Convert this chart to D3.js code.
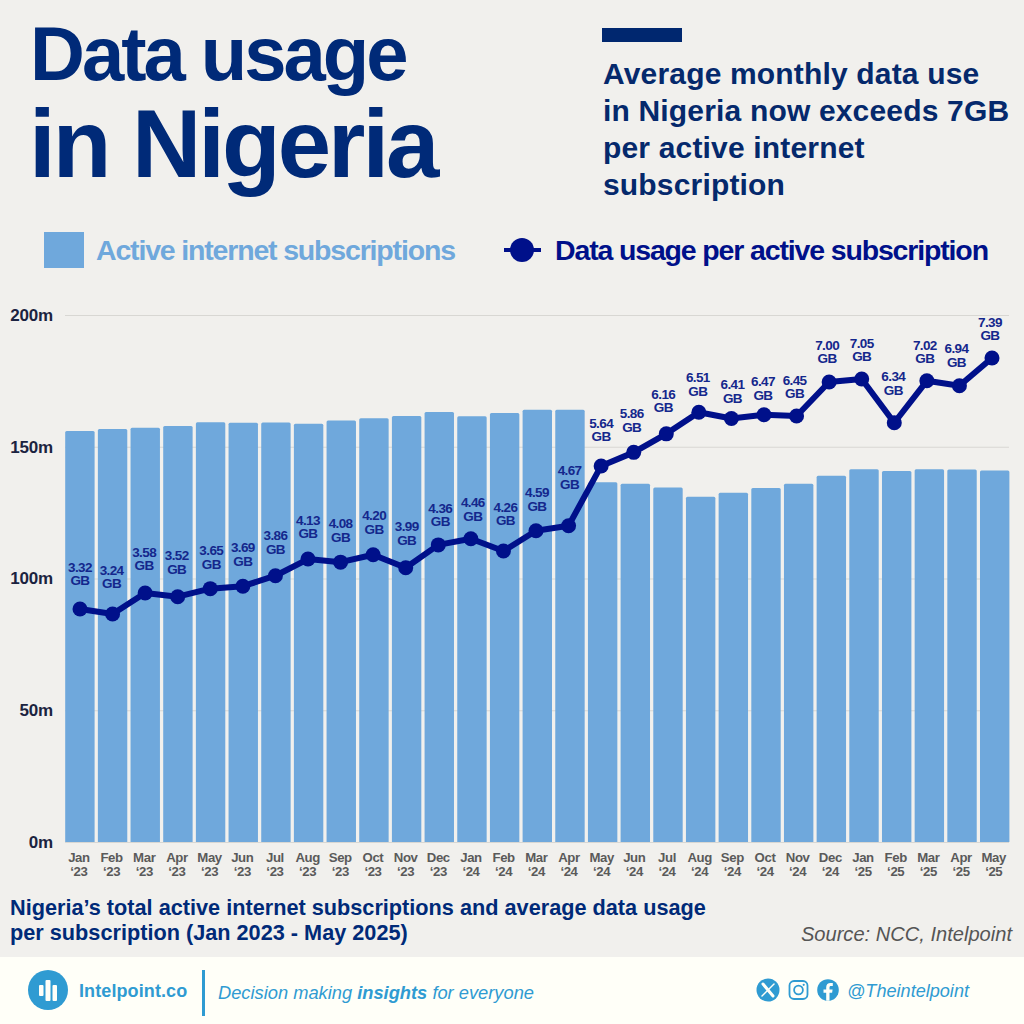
<!DOCTYPE html>
<html>
<head>
<meta charset="utf-8">
<script src="https://cdn.jsdelivr.net/npm/d3@7/dist/d3.min.js"></script>
<style>
  html, body { margin: 0; padding: 0; background: #f1f0ed; }
  svg { display: block; font-family: "Liberation Sans", Arial, sans-serif; }
</style>
</head>
<body>
<svg id="chart" width="1024" height="1024"></svg>
<script>
// Monthly figures, January 2023 to May 2025
const months = ["Jan","Feb","Mar","Apr","May","Jun","Jul","Aug","Sep","Oct","Nov","Dec",
                "Jan","Feb","Mar","Apr","May","Jun","Jul","Aug","Sep","Oct","Nov","Dec",
                "Jan","Feb","Mar","Apr","May"];
const years = ["23","23","23","23","23","23","23","23","23","23","23","23",
               "24","24","24","24","24","24","24","24","24","24","24","24",
               "25","25","25","25","25"];
// Active internet subscriptions, millions
const subscriptions = [156,156.7,157.2,157.9,159.3,159.1,159.2,158.7,160,160.8,161.7,163.2,
                       161.6,162.8,164,164,136.5,136,134.5,131,132.5,134.3,136,139,
                       141.5,140.8,141.5,141.4,141];
// Average data use per active subscription, GB
const usage = [3.32,3.24,3.58,3.52,3.65,3.69,3.86,4.13,4.08,4.20,3.99,4.36,
               4.46,4.26,4.59,4.67,5.64,5.86,6.16,6.51,6.41,6.47,6.45,7.00,
               7.05,6.34,7.02,6.94,7.39];
const yTicks = [0,50,100,150,200];

// Hand placement of the value labels, relative to each point
const labelDx = [0,-1,-1,-1,1,0,0,0,0,1,1,2,2,2,1,1,0,-2,-3,-1,1,-1,-2,-2,0,-1,-2,-3,-2];
const labelRise = [42,44,41,41,38,39,40,39,39,39,41,37,36,44,38,55,43,39,40,35,34,33,36,37,36,46,36,37,36];

const NAVY = "#002a78", BAR = "#6fa8dc", LINE = "#00108a", TEAL = "#2f9bd2";

const svg = d3.select("#chart");
svg.append("rect").attr("width",1024).attr("height",1024).attr("fill","#f1f0ed");

// Headline block
const text = (sel, x, y, str, size, fill, opts = {}) => sel.append("text")
  .attr("x",x).attr("y",y).text(str)
  .attr("font-size",size).attr("fill",fill)
  .attr("font-weight",opts.weight || "bold")
  .attr("font-style",opts.style || "normal")
  .attr("letter-spacing",opts.spacing || 0)
  .attr("text-anchor",opts.anchor || "start");

text(svg,30,80,"Data usage",76,NAVY,{spacing:-3});
text(svg,29,177,"in Nigeria",96,NAVY,{spacing:-3});

svg.append("rect").attr("x",602).attr("y",28).attr("width",80).attr("height",14).attr("fill","#00276f");
["Average monthly data use","in Nigeria now exceeds 7GB","per active internet","subscription"]
  .forEach((line,i) => text(svg,603,84+i*37,line,30,"#05296c",{spacing:0.17}));

// Legend
svg.append("rect").attr("x",44).attr("y",232).attr("width",40).attr("height",36).attr("fill",BAR);
text(svg,96,260,"Active internet subscriptions",28.5,BAR,{spacing:-1.17});
svg.append("line").attr("x1",504).attr("x2",541).attr("y1",250).attr("y2",250).attr("stroke",LINE).attr("stroke-width",4);
svg.append("circle").attr("cx",522).attr("cy",250).attr("r",12).attr("fill",LINE);
text(svg,555,260,"Data usage per active subscription",28.5,LINE,{spacing:-1.15});

// Scales: both series share the plot height, each with its own domain
const yBar = d3.scaleLinear().domain([0,200]).range([842,315]);
const yLine = d3.scaleLinear().domain([-0.457,8.087]).range([842,315]);
const idx = d3.range(months.length);
const xBand = d3.scaleBand().domain(idx).range([65.2,1009.4]).paddingInner(0.1).paddingOuter(0);
const xPoint = d3.scalePoint().domain(idx).range([80,992]);

// Y axis and gridlines
const yAxis = svg.append("g").attr("transform","translate(65,0)")
  .call(d3.axisLeft(yBar).tickValues(yTicks).tickFormat(d => d + "m").tickSize(-944).tickPadding(12));
yAxis.select(".domain").remove();
yAxis.selectAll(".tick line").attr("stroke","#d8d7d3").attr("stroke-width",1.2);
yAxis.selectAll(".tick text").attr("font-family","'Liberation Sans', Arial, sans-serif")
  .attr("font-size",17).attr("font-weight","bold").attr("fill","#1b2340").attr("letter-spacing",-0.2);

// Bars, lightly rounded along the top edge
const r = 1.5;
svg.append("g").selectAll("path").data(subscriptions).join("path")
  .attr("fill",BAR)
  .attr("d",(d,i) => {
    const x = xBand(i), w = xBand.bandwidth(), t = yBar(d), b = yBar(0);
    return `M${x},${b}V${t+r}Q${x},${t} ${x+r},${t}H${x+w-r}Q${x+w},${t} ${x+w},${t+r}V${b}Z`;
  });

// Month labels
const xAxis = svg.append("g").attr("transform","translate(0,842)")
  .call(d3.axisBottom(xBand).tickSize(0).tickFormat(i => months[i]));
xAxis.select(".domain").remove();
xAxis.selectAll(".tick text").each(function(i) {
  const t = d3.select(this).text(null).attr("y",0).attr("dy",null)
    .attr("font-family","'Liberation Sans', Arial, sans-serif")
    .attr("font-size",13.2).attr("font-weight","bold").attr("fill","#5a5a5a").attr("letter-spacing",-0.4);
  t.append("tspan").attr("x",-1).attr("y",19.5).text(months[i]);
  t.append("tspan").attr("x",-1).attr("y",33.5).text("\u2018" + years[i]);
});

// Usage line with markers
svg.append("path").datum(usage)
  .attr("fill","none").attr("stroke",LINE).attr("stroke-width",6).attr("stroke-linejoin","round")
  .attr("d",d3.line().x((d,i) => xPoint(i)).y(d => yLine(d)));
svg.append("g").selectAll("circle").data(usage).join("circle")
  .attr("cx",(d,i) => xPoint(i)).attr("cy",d => yLine(d)).attr("r",7.5).attr("fill",LINE);

// Value labels on two lines
const labels = svg.append("g").attr("text-anchor","middle")
  .attr("font-size",13.5).attr("font-weight","bold").attr("fill","#14278c").attr("letter-spacing",-0.6);
usage.forEach((v,i) => {
  const x = xPoint(i) + labelDx[i], y = yLine(v) - labelRise[i];
  labels.append("text").attr("x",x).attr("y",y + 4.7).text(v.toFixed(2));
  labels.append("text").attr("x",x).attr("y",y + 18.4).text("GB");
});

// Caption and source
text(svg,10,915,"Nigeria\u2019s total active internet subscriptions and average data usage",21.7,NAVY);
text(svg,10,940,"per subscription (Jan 2023 - May 2025)",21.7,NAVY);
text(svg,1012,941,"Source: NCC, Intelpoint",20.1,"#555555",{weight:"normal",style:"italic",anchor:"end"});

// Footer strip
svg.append("rect").attr("y",957).attr("width",1024).attr("height",67).attr("fill","#fffff8");
svg.append("circle").attr("cx",48).attr("cy",990).attr("r",20).attr("fill",TEAL);
[[39,985,4.5,11],[45.5,980,5,21],[52.5,985,4.5,16]].forEach(b =>
  svg.append("rect").attr("x",b[0]).attr("y",b[1]).attr("width",b[2]).attr("height",b[3]).attr("rx",1).attr("fill","#fffff8"));
text(svg,79,997,"Intelpoint.co",18,TEAL,{spacing:0.1});
svg.append("rect").attr("x",202).attr("y",970).attr("width",3).attr("height",46).attr("fill",TEAL);

const tag = text(svg,218,999,"Decision making ",18.3,TEAL,{weight:"normal",style:"italic"});
tag.append("tspan").attr("font-weight","bold").text("insights");
tag.append("tspan").text(" for everyone");

// Social icons
svg.append("circle").attr("cx",768).attr("cy",990).attr("r",11.5).attr("fill",TEAL);
const xGlyph = svg.append("g").attr("stroke","#fffff8").attr("fill","none").attr("stroke-linecap","round");
xGlyph.append("path").attr("d","M763,984L773,996").attr("stroke-width",3);
xGlyph.append("path").attr("d","M774,984L762,996").attr("stroke-width",1.5);
svg.append("rect").attr("x",789.5).attr("y",981).attr("width",18).attr("height",18).attr("rx",4.5)
  .attr("fill","none").attr("stroke",TEAL).attr("stroke-width",1.8);
svg.append("circle").attr("cx",798.5).attr("cy",990).attr("r",4.4).attr("fill","none").attr("stroke",TEAL).attr("stroke-width",1.8);
svg.append("circle").attr("cx",803.7).attr("cy",984.8).attr("r",1.1).attr("fill",TEAL);
svg.append("circle").attr("cx",828).attr("cy",990).attr("r",10.8).attr("fill",TEAL);
svg.append("path").attr("fill","#fffff8")
  .attr("d","M826.2,1000.8V992.8H823.5V989.6H826.2V987.2C826.2,984.4 827.9,982.9 830.4,982.9C831.5,982.9 832.5,983 832.8,983.1V985.9H831.1C829.8,985.9 829.5,986.6 829.5,987.5V989.6H832.6L832.1,992.8H829.5V1000.8Z");
text(svg,847,997,"@Theintelpoint",18.1,TEAL,{weight:"normal",style:"italic"});
</script>
</body>
</html>
